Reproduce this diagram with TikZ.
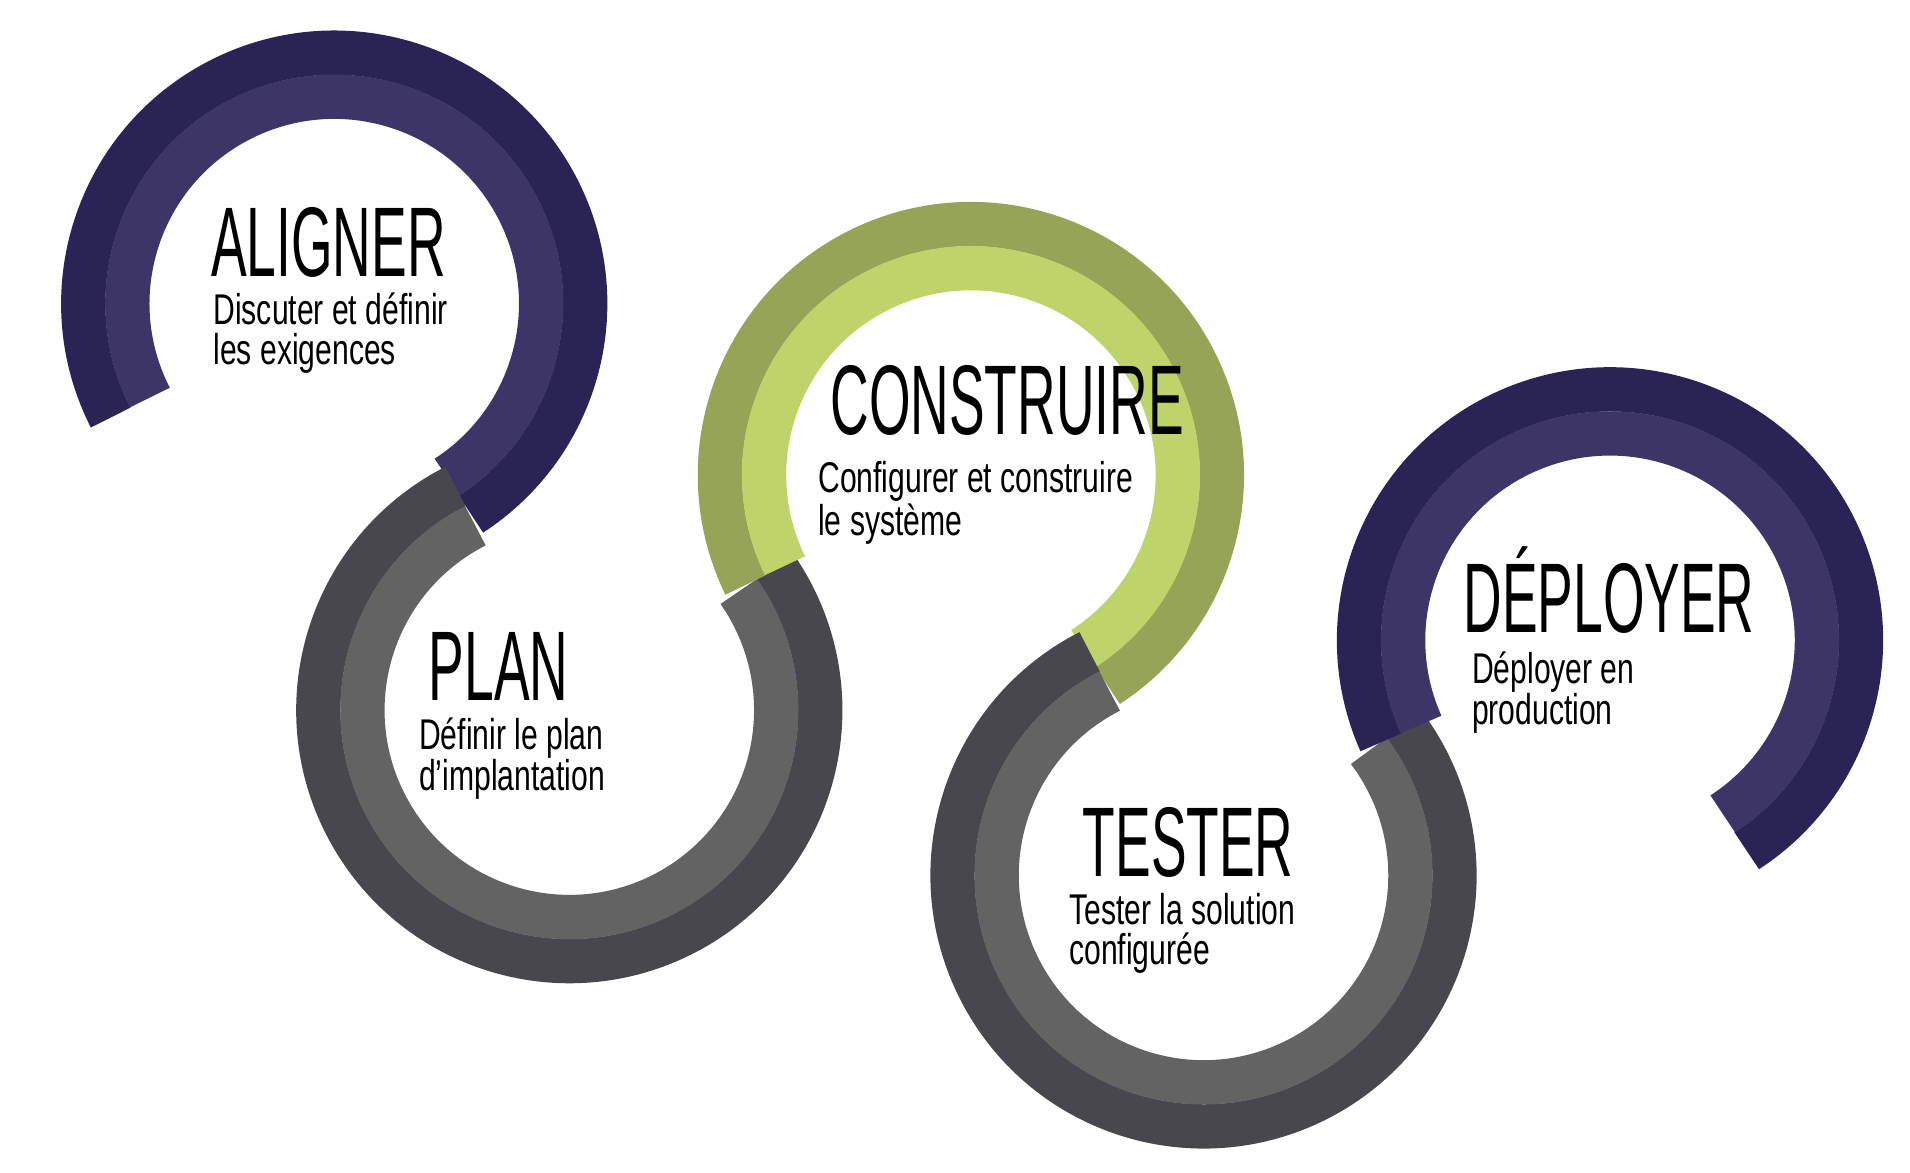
\documentclass[tikz,border=0pt]{standalone}
\usepackage{fontspec}
\setmainfont[FakeStretch=0.7]{Liberation Sans}
\newfontfamily\ttlfont[FakeStretch=0.54]{Liberation Sans}
\definecolor{pdark}{HTML}{2A2356}
\definecolor{plight}{HTML}{3D3468}
\definecolor{gdark}{HTML}{48474D}
\definecolor{glight}{HTML}{636363}
\definecolor{odark}{HTML}{95A456}
\definecolor{olight}{HTML}{BFD36B}
\newcommand\myring[6]{%
\draw[line width=20.6pt,#5] (#1,#2) ++(#3:4.1cm) arc[start angle=#3,end angle=#4,radius=4.1cm];
\draw[line width=20.6pt,#6] (#1,#2) ++(#3:3.38cm) arc[start angle=#3,end angle=#4,radius=3.38cm];}
\tikzset{ttl/.style={anchor=base west,inner sep=0,font=\ttlfont\fontsize{46}{48}\selectfont},
sub/.style={anchor=base west,inner sep=0,font=\fontsize{20}{22}\selectfont}}
\begin{document}
\begin{tikzpicture}[x=0.02cm,y=0.02cm]
\useasboundingbox[fill=white] (0,0) rectangle (1560,958);
\myring{273}{710}{207}{-57}{pdark}{plight}
\myring{465}{378}{117}{395}{gdark}{glight}
\myring{793}{570}{206}{-57}{odark}{olight}
\myring{983}{243}{117}{397}{gdark}{glight}
\myring{1315}{435}{204}{-57}{pdark}{plight}
\node[ttl] (t1) at (172,732) {ALIGNER};
\node[sub] (s1a) at (174,693) {Discuter et définir};
\node[sub] (s1b) at (174,660) {les exigences};
\node[ttl] (t2) at (350,386) {PLAN};
\node[sub] (s2a) at (342,346) {Définir le plan};
\node[sub] (s2b) at (342,312) {d’implantation};
\node[ttl] (t3) at (678,603) {CONSTRUIRE};
\node[sub] (s3a) at (668,556) {Configurer et construire};
\node[sub] (s3b) at (668,521) {le système};
\node[ttl] (t4) at (884,242) {TESTER};
\node[sub] (s4a) at (873,203) {Tester la solution};
\node[sub] (s4b) at (873,170) {configurée};
\node[ttl] (t5) at (1195,441) {DÉPLOYER};
\node[sub] (s5a) at (1202,400) {Déployer en};
\node[sub] (s5b) at (1202,366) {production};
\end{tikzpicture}
\end{document}
